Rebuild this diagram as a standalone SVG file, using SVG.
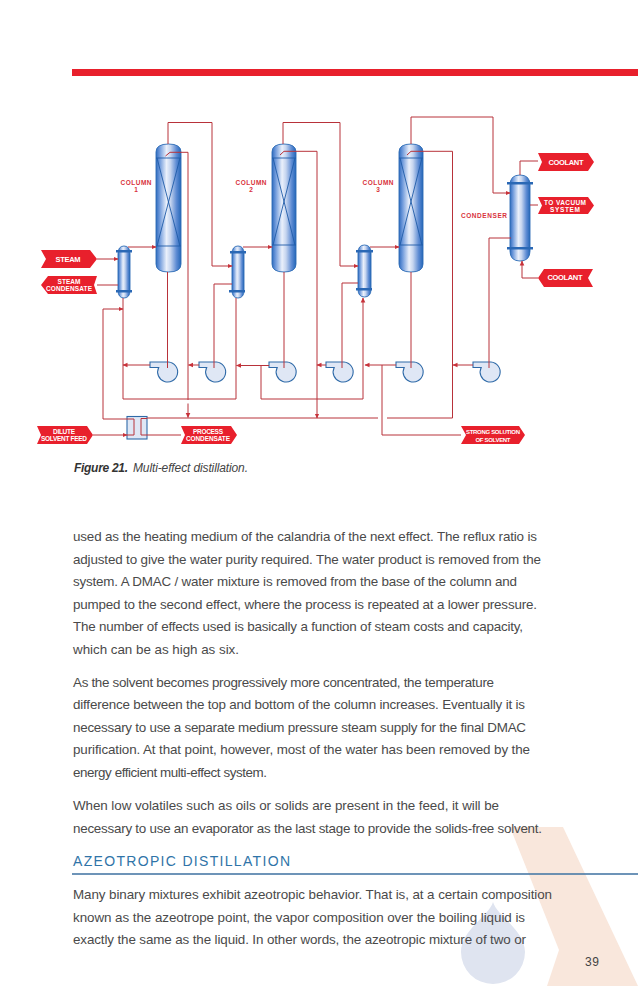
<svg xmlns="http://www.w3.org/2000/svg" width="638" height="986" viewBox="0 0 638 986">
<style>
text{font-family:"Liberation Sans",Arial,sans-serif}
.body{font-size:13.4px;fill:#4a4a4a;font-weight:400}
.tag{fill:#e8202c}
.tl{font-size:6.5px;font-weight:700;fill:#fff;text-anchor:middle}
.lab{font-size:6.5px;font-weight:700;fill:#d8333c;text-anchor:middle}
.c{fill:none;stroke:#b8323a;stroke-width:1}
.a{marker-end:url(#arr)}
.v{fill:url(#g);stroke:#2c6cb5;stroke-width:.9}
.in{fill:none;stroke:#1f5ba8;stroke-width:.9}
.fl{fill:#2a68b5}
.p{fill:#dfe7f5;stroke:#2f6aa8;stroke-width:1.1}
</style>
<defs>
<linearGradient id="g" x1="0" x2="1" y1="0" y2="0">
<stop offset="0" stop-color="#2f6bbd"/><stop offset=".14" stop-color="#6b97da"/><stop offset=".42" stop-color="#eaf0fb"/><stop offset=".58" stop-color="#c6d5ef"/><stop offset=".82" stop-color="#5d8bd3"/><stop offset="1" stop-color="#2466b8"/>
</linearGradient>
<marker id="arr" markerUnits="userSpaceOnUse" markerWidth="6" markerHeight="6" refX="4.500" refY="3" orient="auto"><path d="M0 .7L5 3L0 5.300Z" fill="#c8323a"/></marker>
</defs>
<rect width="638" height="986" fill="#fff"/>
<polygon points="510,827 563,827 638,986 547,986 559,950" fill="#f9e7dc"/>
<path d="M493 902C489 916 461 930 461 952A32 32 0 0 0 525 952C525 930 497 916 493 902Z" fill="#dfe4f0"/>
<rect x="72" y="69" width="566" height="7" fill="#e8202c"/>

<g id="column1"><path class="v" d="M156 152Q156 144 168.500 144Q181 144 181 152V264Q181 272 168.500 272Q156 272 156 264Z"/><path class="in" d="M156 158H181M156 246H181M157 158L180 246M180 158L157 246"/><text class="lab" x="136" y="184.500" textLength="31">COLUMN</text><text class="lab" x="136" y="192">1</text></g>
<g id="column2"><path class="v" d="M272 152Q272 144 284 144Q296 144 296 152V264Q296 272 284 272Q272 272 272 264Z"/><path class="in" d="M272 158H296M272 245H296M273 158L295 245M295 158L273 245"/><text class="lab" x="251" y="184.500" textLength="31">COLUMN</text><text class="lab" x="251" y="192">2</text></g>
<g id="column3"><path class="v" d="M399 152Q399 144 411 144Q423 144 423 152V264Q423 272 411 272Q399 272 399 264Z"/><path class="in" d="M399 158H423M399 245H423M400 158L422 245M422 158L400 245"/><text class="lab" x="378" y="184.500" textLength="31">COLUMN</text><text class="lab" x="378" y="192">3</text></g>

<g id="reboiler1"><path class="v" d="M118 254Q118 246 124 246Q130 246 130 254V290Q130 298 124 298Q118 298 118 290Z"/><rect class="fl" x="116" y="250" width="16" height="2.500"/><rect class="fl" x="116" y="290" width="16" height="2.500"/></g>
<g id="reboiler2"><path class="v" d="M232 254Q232 246 238 246Q244 246 244 254V290Q244 298 238 298Q232 298 232 290Z"/><rect class="fl" x="230" y="251" width="16" height="2.500"/><rect class="fl" x="229" y="290" width="16" height="2.500"/></g>
<g id="reboiler3"><path class="v" d="M358 253Q358 245 364.500 245Q371 245 371 253V289Q371 297 364.500 297Q358 297 358 289Z"/><rect class="fl" x="356" y="250" width="17" height="2.500"/><rect class="fl" x="356" y="288" width="16" height="2.500"/></g>
<g id="condenser"><path class="v" d="M510 185Q510 175 520 175Q530 175 530 185V251Q530 261 520 261Q510 261 510 251Z"/><rect class="fl" x="507" y="182" width="26" height="2.500"/><rect class="fl" x="507" y="247" width="26" height="2.500"/><text class="lab" x="484" y="218" textLength="46">CONDENSER</text></g>

<g id="pump1"><path class="p" d="M150 362H168.500A10 10 0 1 1 158.700 367.500H150Z"/></g>
<g id="pump2"><path class="p" d="M199 362H216.500A10 10 0 1 1 206.700 367.500H199Z"/></g>
<g id="pump3"><path class="p" d="M269 362H287A10 10 0 1 1 277.200 367.500H269Z"/></g>
<g id="pump4"><path class="p" d="M326 362H344A10 10 0 1 1 334.200 367.500H326Z"/></g>
<g id="pump5"><path class="p" d="M396 362H414A10 10 0 1 1 404.200 367.500H396Z"/></g>
<g id="pump6"><path class="p" d="M473 362H491A10 10 0 1 1 481.200 367.500H473Z"/></g>
<g id="exchanger"><rect x="127" y="416.500" width="20" height="22.500" fill="#dfe7f5" stroke="#2f6aa8" stroke-width="1.100"/></g>

<g id="steam"><polygon class="tag" points="41,250 90,250 97,259 90,268 41,268 46,259"/><text class="tl" x="68" y="262" style="font-size:7.5px" textLength="25">STEAM</text></g>
<g id="steam-condensate"><polygon class="tag" points="41,285 48,276 97,276 94,285 97,294 48,294"/><text class="tl" x="69" y="283.500" textLength="23">STEAM</text><text class="tl" x="69" y="291" textLength="46">CONDENSATE</text></g>
<g id="coolant-out"><polygon class="tag" points="538,153 588,153 594,162 588,171 538,171 542,162"/><text class="tl" x="566" y="165" style="font-size:7.5px" textLength="35">COOLANT</text></g>
<g id="vacuum"><polygon class="tag" points="538,197 588,197 594,205.500 588,214 538,214 542,205.500"/><text class="tl" x="565" y="204.500" textLength="42">TO VACUUM</text><text class="tl" x="565" y="212" textLength="30">SYSTEM</text></g>
<g id="coolant-in"><polygon class="tag" points="538,278 544,269 593,269 588,278 593,287 544,287"/><text class="tl" x="565" y="280" style="font-size:7.5px" textLength="35">COOLANT</text></g>
<g id="dilute"><polygon class="tag" points="37,426 87,426 93,435 87,444 37,444 41,435"/><text class="tl" x="64" y="433.500" textLength="22">DILUTE</text><text class="tl" x="64" y="441" textLength="46">SOLVENT FEED</text></g>
<g id="process-condensate"><polygon class="tag" points="181,426 231,426 237,435 231,444 181,444 185,435"/><text class="tl" x="208" y="433.500" textLength="30">PROCESS</text><text class="tl" x="208" y="441" textLength="44">CONDENSATE</text></g>
<g id="strong-solution"><polygon class="tag" points="461,426 519,426 525,435 519,444 461,444 466,435"/><text class="tl" x="493" y="434" style="font-size:6px" textLength="54">STRONG SOLUTION</text><text class="tl" x="493" y="441.500" style="font-size:6px" textLength="35">OF SOLVENT</text></g>

<g id="connectors">
<path class="c a" d="M97 259H118"/>
<path class="c" d="M118 285H97"/>
<path class="c a" d="M128 247H156"/>
<path class="c a" d="M168 144V122.500H212V266H232"/>
<path class="c" d="M165.500 156L170 152.300H188V400"/>
<path class="c a" d="M188 403.500V417.500"/>
<path class="c" d="M167.500 272V368"/>
<path class="c a" d="M150 365H123"/>
<path class="c" d="M123 298V399H236V298"/>
<path class="c a" d="M103 419V309H123"/>
<path class="c a" d="M199 365H188.500"/>
<path class="c" d="M232 284H214V368"/>
<path class="c a" d="M283 144V122.500H340V266H358"/>
<path class="c a" d="M243 247H272"/>
<path class="c a" d="M280 155L284 151.300H317V418"/>
<path class="c" d="M284 272V368"/>
<path class="c a" d="M269 365.500H236.500"/>
<path class="c a" d="M261 365.500V399H363V298"/>
<path class="c" d="M358 283H342V368"/>
<path class="c a" d="M370 247H399"/>
<path class="c a" d="M326 365H317"/>
<path class="c a" d="M411 144V117H493V193H510"/>
<path class="c" d="M407 155L411 151.300H452.500V418H387"/>
<path class="c" d="M378 418H147"/>
<path class="c" d="M411 272V368"/>
<path class="c a" d="M396 365H365"/>
<path class="c" d="M382 365V435H461"/>
<path class="c a" d="M473 365H453"/>
<path class="c" d="M511 238H489V368"/>
<path class="c" d="M520 175V161H538"/>
<path class="c" d="M530 205H538"/>
<path class="c a" d="M538 278H522V261"/>
<path class="c a" d="M93 435H127"/>
<path class="c" d="M103 419H134V435H127"/>
<path class="c" d="M147 418.500H141V435H181"/>
</g>

<text x="74" y="472" font-size="12" font-weight="700" font-style="italic" fill="#333" textLength="54">Figure 21.</text>
<text x="133" y="472" font-size="12" font-style="italic" fill="#444" textLength="115">Multi-effect distillation.</text>

<text class="body" x="73" y="541" textLength="464">used as the heating medium of the calandria of the next effect. The reflux ratio is</text>
<text class="body" x="73" y="564" textLength="468">adjusted to give the water purity required. The water product is removed from the</text>
<text class="body" x="73" y="586" textLength="444">system. A DMAC / water mixture is removed from the base of the column and</text>
<text class="body" x="73" y="609" textLength="464">pumped to the second effect, where the process is repeated at a lower pressure.</text>
<text class="body" x="73" y="631" textLength="450">The number of effects used is basically a function of steam costs and capacity,</text>
<text class="body" x="73" y="654" textLength="166">which can be as high as six.</text>
<text class="body" x="73" y="687" textLength="421">As the solvent becomes progressively more concentrated, the temperature</text>
<text class="body" x="73" y="709" textLength="452">difference between the top and bottom of the column increases. Eventually it is</text>
<text class="body" x="73" y="732" textLength="453">necessary to use a separate medium pressure steam supply for the final DMAC</text>
<text class="body" x="73" y="754" textLength="457">purification. At that point, however, most of the water has been removed by the</text>
<text class="body" x="73" y="777" textLength="194">energy efficient multi-effect system.</text>
<text class="body" x="73" y="810" textLength="426">When low volatiles such as oils or solids are present in the feed, it will be</text>
<text class="body" x="73" y="833" textLength="469">necessary to use an evaporator as the last stage to provide the solids-free solvent.</text>
<text x="73" y="866" font-size="14" fill="#2f74a8" textLength="217">AZEOTROPIC  DISTILLATION</text>
<rect x="72" y="873.200" width="566" height="1.600" fill="#4a7ba7"/>
<text class="body" x="73" y="899" textLength="479">Many binary mixtures exhibit azeotropic behavior. That is, at a certain composition</text>
<text class="body" x="73" y="922" textLength="452">known as the azeotrope point, the vapor composition over the boiling liquid is</text>
<text class="body" x="73" y="944" textLength="453">exactly the same as the liquid. In other words, the azeotropic mixture of two or</text>
<text x="585" y="966" font-size="12" fill="#444" textLength="14">39</text>
</svg>
